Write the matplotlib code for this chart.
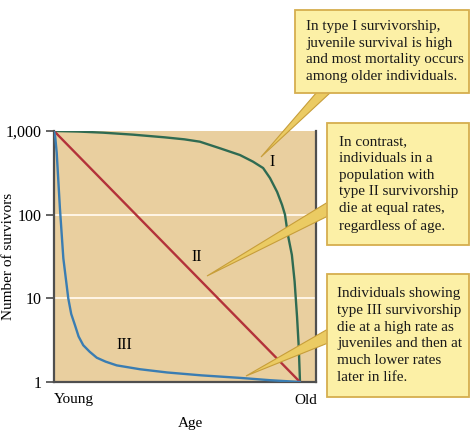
import matplotlib
matplotlib.use("Agg")
import matplotlib.pyplot as plt
from matplotlib.patches import Rectangle, Polygon
from matplotlib.transforms import blended_transform_factory

# ---- data (x: 0 = Young, 1 = Old; y: number of survivors) ----
type1_x = [0.0, 0.1, 0.2, 0.32, 0.45, 0.53, 0.593, 0.675, 0.756, 0.809, 0.85, 0.878, 0.907,
           0.927, 0.939, 0.951, 0.967, 0.978, 0.988, 0.995, 1.0]
type1_y = [1000, 985, 955, 905, 840, 795, 745, 621, 516, 430, 361, 274, 187,
           131, 100, 57, 33, 16, 6, 2.6, 1]
type2_x = [0.0, 1.0]
type2_y = [1000, 1]
type3_x = [0.0, 0.005, 0.011, 0.024, 0.038, 0.058, 0.07, 0.085, 0.1, 0.119, 0.145, 0.174,
           0.21, 0.255, 0.35, 0.46, 0.6, 0.756, 0.88, 1.0]
type3_y = [1000, 850, 550, 120, 30, 10, 6.5, 4.8, 3.5, 2.75, 2.3, 1.95,
           1.75, 1.58, 1.42, 1.3, 1.2, 1.12, 1.05, 1.0]
ytick_vals = [1, 10, 100, 1000]
ytick_labels = ["1", "10", "100", "1,000"]
curve_labels = ["I", "II", "III"]
notes = [
    "In type I survivorship,\njuvenile survival is high\nand most mortality occurs\namong older individuals.",
    "In contrast,\nindividuals in a\npopulation with\ntype II survivorship\ndie at equal rates,\nregardless of age.",
    "Individuals showing\ntype III survivorship\ndie at a high rate as\njuveniles and then at\nmuch lower rates\nlater in life.",
]

W, H = 474, 432
SERIF = ["Liberation Serif", "DejaVu Serif"]
plt.rcParams["font.family"] = SERIF

fig = plt.figure(figsize=(W / 100, H / 100), dpi=100)
fig.patch.set_facecolor("white")

def fx(px):
    return px / W

def fy(py):
    return 1 - py / H

# axes placement (pixels): left 54, right 316, top 131, bottom 382
x_old_px = 300
ax = fig.add_axes([fx(54), fy(382), fx(316) - fx(54), fy(131) - fy(382)])
ax.set_facecolor("#E9CF9F")
ax.set_yscale("log")
ax.set_ylim(1, 1000)
ax.set_xlim(0, (316 - 54) / (x_old_px - 54))

for v in [10, 100]:
    ax.axhline(v, color="#FFF6E6", lw=1.4, zorder=1)

ax.plot(type1_x, type1_y, color="#2F6B52", lw=1.7, zorder=3, solid_capstyle="round",
        solid_joinstyle="round")
ax.plot(type2_x, type2_y, color="#B3323A", lw=1.7, zorder=3)
ax.plot(type3_x, type3_y, color="#3A7DB2", lw=1.7, zorder=3, solid_capstyle="round",
        solid_joinstyle="round")

ax.text(0.885, 430, curve_labels[0], fontsize=11.5, ha="center", va="center", zorder=4)
ax.text(0.58, 31, curve_labels[1], fontsize=11.5, ha="center", va="center", zorder=4)
ax.text(0.285, 2.75, curve_labels[2], fontsize=11.5, ha="center", va="center", zorder=4)

ax.set_yticks(ytick_vals)
ax.set_yticklabels(ytick_labels, fontsize=11.5)
ax.yaxis.set_minor_locator(matplotlib.ticker.NullLocator())
ax.tick_params(axis="y", direction="out", length=6, width=1.2, color="#4a4a4a", pad=3)
ax.set_xticks([])
for s in ["left", "bottom", "right"]:
    ax.spines[s].set_color("#4f4f4f")
    ax.spines[s].set_linewidth(1.6)
ax.spines["top"].set_visible(False)

trans = blended_transform_factory(ax.transData, fig.transFigure)
ax.text(0.0, fy(400), "Young", transform=trans, fontsize=11, ha="left", va="center")
ax.text(1.025, fy(400), "Old", transform=trans, fontsize=11, ha="center", va="center")
fig.text(fx(190), fy(423), "Age", fontsize=11, ha="center", va="center")
fig.text(fx(9), fy(256), "Number of survivors", fontsize=11, rotation=90, ha="center", va="center")

# callout boxes (pixel coords)
boxes = [
    (295, 10, 469, 93),
    (327, 123, 469, 245),
    (327, 274, 469, 397),
]
pointers = [
    [(317, 92), (331, 92), (261, 157)],
    [(328, 202), (328, 216), (207, 276)],
    [(328, 329), (328, 343), (246, 376)],
]
text_left = [306, 339, 337]

for (x0, y0, x1, y1), ptr, tl, note in zip(boxes, pointers, text_left, notes):
    poly = Polygon([(fx(px), fy(py)) for px, py in ptr], closed=True,
                   transform=fig.transFigure, facecolor="#EBCB63",
                   edgecolor="#C79E3A", lw=0.8, zorder=5)
    fig.add_artist(poly)
    rect = Rectangle((fx(x0), fy(y1)), fx(x1) - fx(x0), fy(y0) - fy(y1),
                     transform=fig.transFigure, facecolor="#FCF0A6",
                     edgecolor="#D6AE4E", lw=1.3, zorder=6)
    fig.add_artist(rect)
    fig.text(fx(tl), (fy(y0) + fy(y1)) / 2, note, fontsize=10.9, ha="left",
             va="center", linespacing=1.38, zorder=7, color="#1a1a1a")

fig.savefig("out.png", dpi=100)
